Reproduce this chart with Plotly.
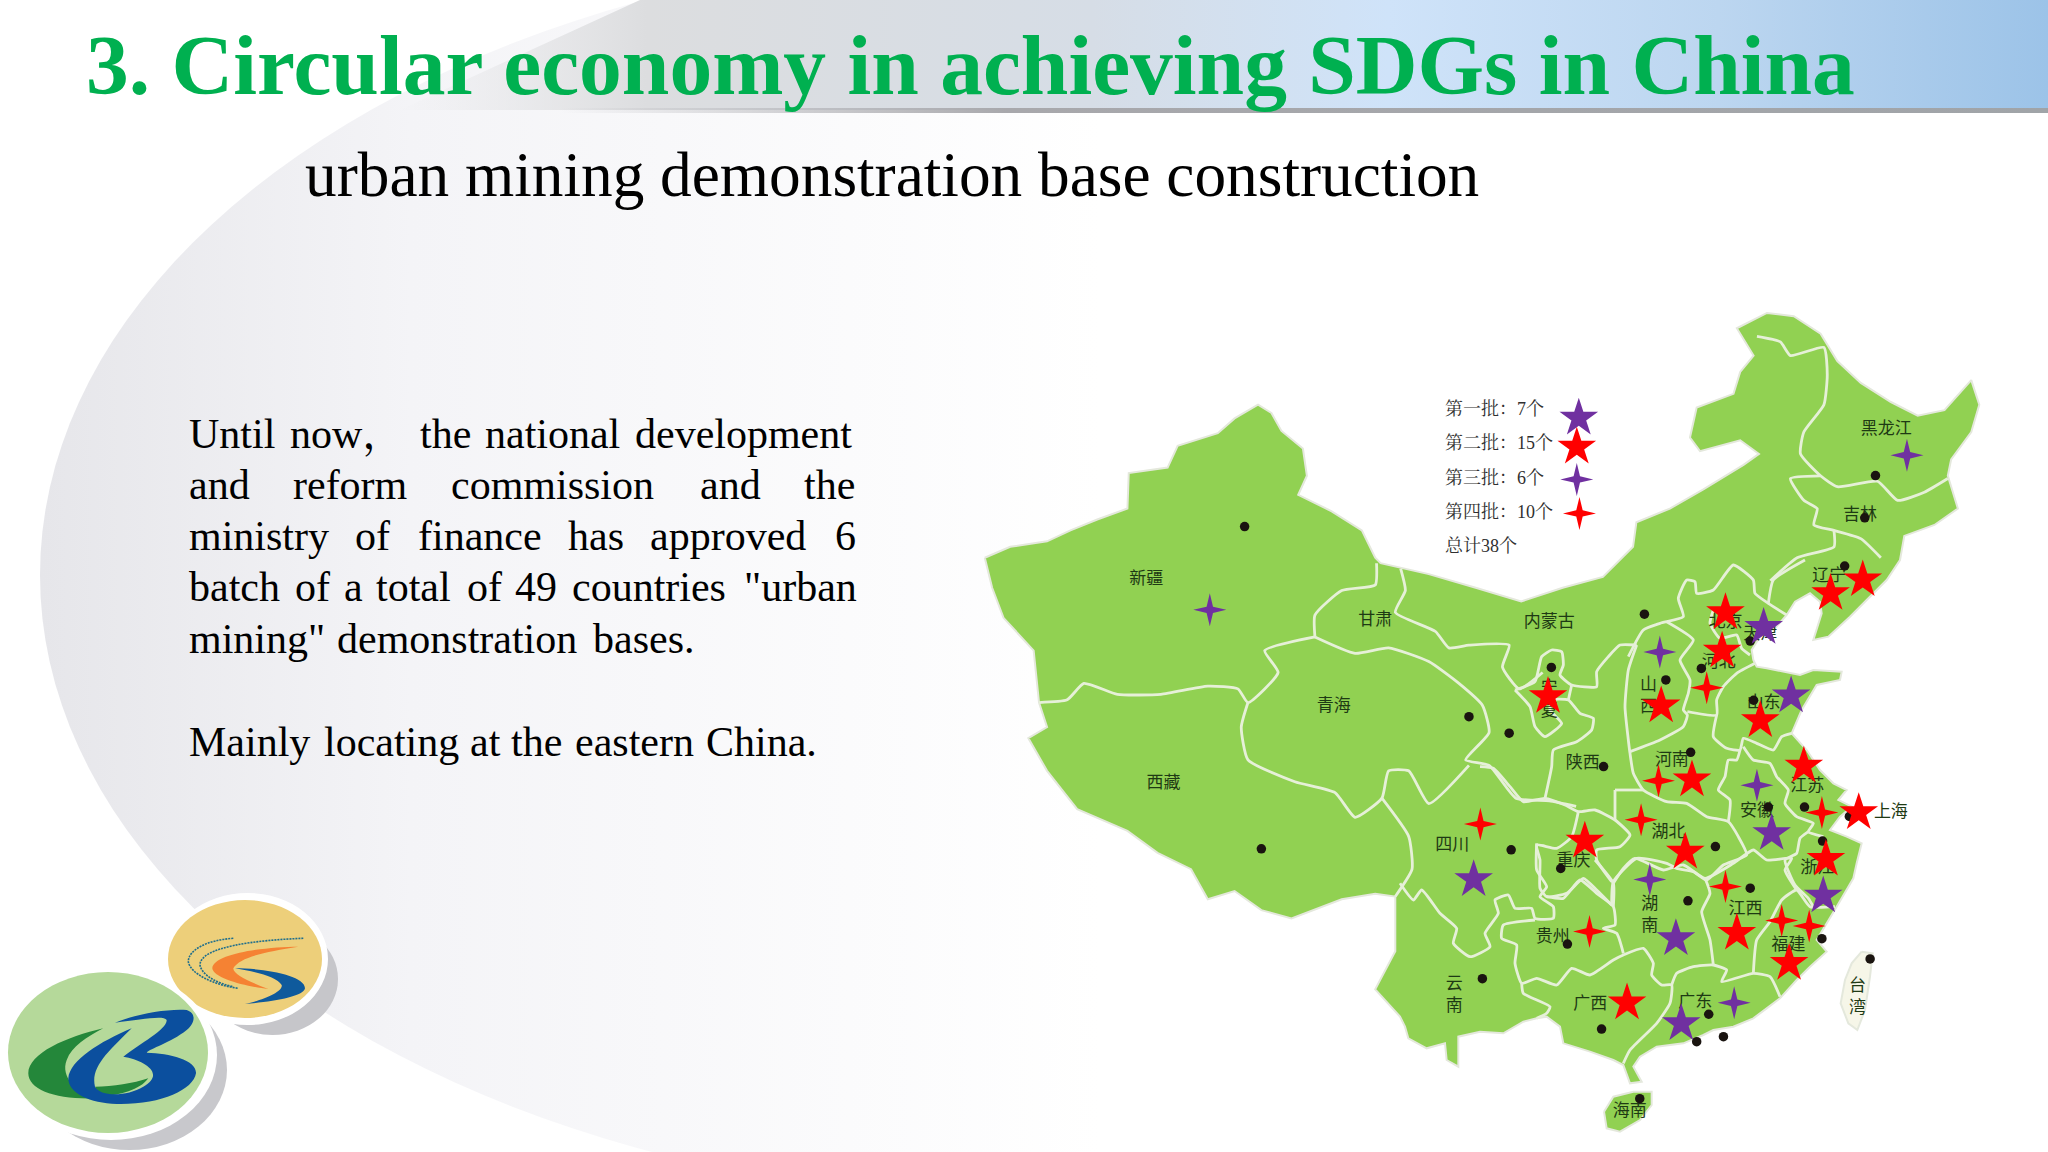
import numpy as np
import plotly.graph_objects as go

W, H = 2048, 1152
SERIF = "Liberation Serif, Noto Serif CJK SC, Noto Sans CJK SC"
CJK = "Noto Sans CJK SC"
GREEN, LINE = "#91D152", "#E6F0D8"

# ---- crop-to-page conversions for map coordinates
def a(pts): return [(960 + .6697 * x, 290 + .5464 * y) for x, y in pts]
def p(pts): return [(960 + .6697 * x, 292 + .548 * y) for x, y in pts]
def b(pts): return [(1480 + x / 3, 560 + y / 3) for x, y in pts]
def c(pts): return [(1400 + x / 3, 800 + y / 3) for x, y in pts]
def d(pts): return [(x / 3, 860 + y / 3) for x, y in pts]

# ---- map geometry
outline = (
    a([(37,490),(75,470),(130,460),(165,440),(205,420),(250,400),(252,335),(310,325),(325,285),(385,262),(410,235),
       (445,210),(465,225),(480,258),(512,290),(518,340),(505,375),(555,405),(600,440),(620,490),(628,500),(700,520),
       (770,545),(838,570),(900,545),(960,525),(1005,470),(1010,425),(1060,400),(1110,365),(1170,320),(1193,300),
       (1165,275),(1105,295),(1090,270),(1100,215),(1155,190),(1165,150),(1185,120),(1160,70),(1205,42),(1245,48),
       (1285,80),(1310,130),(1345,170),(1390,205),(1430,230),(1470,220),(1510,165),(1522,210),(1510,260),(1480,310),
       (1475,340),(1490,400),(1455,430),(1410,450)])
    + b([(1260,0),(1220,60),(1160,120),(1110,170),(1045,230),(1000,240),(1025,160),(1020,125),(990,100),(945,125),
         (920,165),(885,205),(840,230),(815,270),(820,300),(830,320),(860,325),(905,335),(960,345),(1000,330),(1085,335),
         (1080,360),(1010,375),(965,450),(935,520),(980,570),(1020,630),(1060,670),(1100,690),(1075,720),(1115,740)])
    + c([(1320,50),(1290,90),(1340,110),(1385,130),(1370,190),(1360,235),(1310,320),(1280,370),(1250,420),(1280,455),
         (1230,500),(1190,540),(1140,595),(1100,625),(1060,655),(1000,680),(940,690),(910,705),(850,730),(770,740),
         (720,770),(700,800),(725,845),(690,850),(670,795),(640,780),(570,755),(490,730),(480,680),(440,650),(410,655),
         (370,665),(310,700),(240,695),(175,710),(175,800),(140,780),(135,730),(80,745),(25,715),(15,680),(0,650)])
    + a([(620,1280),(650,1210),(650,1110),(620,1105),(570,1115),(495,1150),(450,1135),(410,1100),(370,1115),(345,1060),(295,1030),
         (250,990),(175,950),(130,880),(102,820),(130,800),(118,755),(110,660),(65,600),(48,545),(37,490)])
)
hainan = c([(612,935),(640,890),(700,875),(755,875),(755,915),(720,960),(660,995),(620,985)])
taiwan = c([(1385,455),(1418,460),(1410,530),(1395,630),(1372,690),(1345,670),(1322,610),(1335,540),(1355,490)])

borders = [
    a([(118,755),(160,750),(185,720),(235,740),(300,740),(370,725),(415,730),(430,755),(475,700),(455,660),(530,635)]),
    a([(530,635),(530,595),(570,550),(620,540),(622,500)]),
    a([(658,510),(665,550),(650,590),(710,625),(730,655),(760,650),(820,650),(810,690),(835,730),(870,700)]),
    a([(530,635),(590,665),(640,655),(700,680),(745,720),(780,760),(790,810),(755,860),(790,870),(830,930),(880,935),(920,945)]),
    a([(430,755),(420,800),(430,860),(500,900),(560,920),(590,965),(630,930),(640,880),(670,880),(700,940),(760,870)]),
    a([(630,930),(670,1000),(675,1060),(650,1110)]),
    b([(105,390),(165,365),(185,290),(215,270),(245,275),(250,315),(240,345),(275,375),(350,380),(350,335),(385,290),(420,255),(470,255)]),
    b([(105,390),(150,440),(165,500),(195,530),(245,490),(210,450),(215,420),(265,420),(300,460),(340,475),(335,510),(290,545),(220,570),(215,620),(195,715)]),
    b([(265,420),(275,375)]),
    b([(0,620),(40,625),(90,680),(130,725),(195,715),(255,735),(295,755),(345,750),(405,780),(450,825),(420,860),(350,870),(350,900),(395,965)]),
    b([(470,255),(445,330),(435,440),(445,540),(450,580),(460,640),(490,690),(560,725),(620,730),(680,770),(745,785),(775,830),(800,885),(730,915),(680,960),(640,935),(590,925),(560,910),(470,895),(400,965),(395,1035)]),
    b([(445,290),(490,210),(540,190),(610,170),(595,115),(620,60),(645,65),(650,100),(700,90),(760,15),(820,60),(825,100),(865,130),(920,165)]),
    b([(865,130),(880,60),(975,0)]),
    b([(560,185),(640,240),(600,300),(630,360),(625,400),(610,450),(622,465),(610,500),(540,540),(450,575)]),
    b([(622,455),(710,465),(710,420),(730,380),(770,340),(825,310)]),
    b([(710,465),(700,530),(740,565),(780,570),(790,535),(830,550),(880,570),(905,530),(935,520)]),
    b([(780,570),(770,600),(745,600),(735,650),(715,690),(750,720),(745,785)]),
    b([(790,560),(820,600),(870,610),(890,650),(925,690),(915,730),(950,770),(1000,790),(985,815),(1030,830)]),
    b([(985,815),(960,835),(950,880),(915,900),(945,975),(985,1015),(1000,1040)]),
    b([(700,150),(690,190),(720,235),(770,225),(785,265),(810,285)]),
    b([(405,690),(405,780)]),
    b([(405,690),(490,690)]),
    b([(295,755),(275,830),(230,865),(170,855),(180,900),(180,985),(200,1010),(260,1000),(310,955),(350,990),(395,1035)]),
    c([(410,130),(410,210),(440,260),(420,290),(460,320),(460,355),(405,355),(395,325),(345,325),(325,285),(285,300),(295,340),(255,400),(270,440),(210,470),(160,430),(170,385),(120,340),(65,270),(40,300),(0,250)]),
    c([(440,290),(490,295),(540,240),(590,280),(640,320),(645,375),(610,385),(650,400),(670,460)]),
    c([(585,180),(640,250),(640,320)]),
    c([(405,360),(310,375),(305,415),(350,435),(345,490),(365,550),(410,535),(470,555),(515,505),(570,525),(640,480),(670,465),(730,445),(760,490),(755,525),(785,555),(815,555),(810,610),(770,670),(690,750),(670,790)]),
    c([(365,550),(370,580),(450,620),(440,640),(410,655)]),
    c([(815,555),(830,520),(880,500),(940,495),(980,510),(965,545),(1060,520),(1110,530),(1140,590)]),
    c([(915,235),(930,280),(905,335),(930,420),(940,495)]),
    c([(1060,520),(1070,420),(1110,365),(1145,300),(1190,270),(1230,320),(1305,320)]),
    c([(1190,270),(1155,210),(1175,175),(1100,180),(1060,150),(1000,190),(915,235),(850,195),(790,210),(705,175),(670,205),(640,250)]),
    a([(1190,85),(1225,95),(1240,120),(1290,105),(1295,155),(1290,210),(1260,260),(1255,300),(1285,340),(1310,360),(1370,350),(1400,385),(1440,370),(1475,345)]),
    a([(1285,340),(1240,345),(1260,385),(1280,400),(1275,430),(1305,440),(1345,455),(1375,490)]),
    a([(1305,440),(1305,470),(1250,490),(1210,532)]),
]

# ---- demonstration bases (four batches) and city dots
batch1_pts = p([(924,230),(1200,612),(1241,737),(767,1072),(1212,988),(1289,1102),(1069,1180),(1077,1335)])
batch2_pts = p([(921,283),(1348,525),(1300,550),(1143,585),(1138,655),(878,738),(1047,755),(1195,782),(1260,865),(1093,890),
                (1342,950),(933,1002),(1083,1022),(1293,1035),(1160,1170),(1238,1225),(996,1297)])
batch3_pts = p([(921,342),(1414,298),(373,580),(1045,657),(1190,900),(1030,1072),(1156,1297)])
batch4_pts = p([(925,404),(1115,722),(1043,892),(1287,950),(777,971),(1017,963),(1143,1085),(1227,1147),(1268,1157),(940,1167)])
city_pts = p([(425,428),(450,1016),(760,775),(820,805),(883,685),(1022,588),(1054,708),(1107,687),(1180,637),(1185,745),
              (1091,840),(961,866),(1207,940),(1261,940),(1328,957),(1288,1002),(823,1018),(897,1052),(1128,1012),(1180,1088),
              (1087,1111),(907,1190),(1287,1180),(780,1253),(958,1345),(1118,1318),(1100,1368),(1140,1359),(1015,1472),
              (1359,1217),(1367,335),(1351,412),(1321,500)])

province_names = ["新疆","甘肃","内蒙古","青海","西藏","四川","云<br>南","广西","贵州","重庆","陕西","宁<br>夏","山<br>西","河南","湖北",
                  "湖<br>南","河北","北京","天津","山东","江苏","安徽","上海","浙江","江西","福建","广东","台<br>湾","海南","辽宁","吉林","黑龙江"]
province_pts = p([(278,525),(620,600),(880,603),(558,756),(304,898),(735,1010),(738,1285),(941,1300),(885,1178),(916,1040),
                  (930,860),(880,745),(1028,738),(1063,856),(1058,987),(1030,1138),(1133,677),(1143,603),(1195,625),(1200,752),
                  (1265,902),(1190,948),(1390,950),(1280,1053),(1173,1128),(1237,1193),(1098,1297),(1340,1288),(1000,1495),
                  (1298,520),(1344,408),(1383,252)])

legend_labels = ["第一批：7个","第二批：15个","第三批：6个","第四批：10个","总计38个"]
legend_y = [409, 443, 478, 512, 546]

title_text = "3. Circular economy in achieving SDGs in China"
subtitle_text = "urban mining demonstration base construction"
body_lines = [
    (434, [("Until",188),("now，",289),("the",419),("national",484),("development",634)]),
    (485, [("and",188),("reform",292),("commission",450),("and",699),("the",803)]),
    (536, [("ministry",188),("of",354),("finance",417),("has",567),("approved",649),("6",834)]),
    (587, [("batch",188),("of",294),("a",343),("total",375),("of",466),("49",514),("countries",571),('"urban',743)]),
    (639, [('mining"',188),("demonstration",336),("bases.",592)]),
    (742, [("Mainly",188),("locating",323),("at",469),("the",510),("eastern",574),("China.",705)]),
]

fig = go.Figure()

def xy(pts):
    return [q[0] for q in pts], [q[1] for q in pts]

def sparkle_path(pts, r=16.5, k=3.2):
    xs, ys = [], []
    for cx, cy in pts:
        xs += [cx, cx + k, cx + r, cx + k, cx, cx - k, cx - r, cx - k, cx, None]
        ys += [cy - r, cy - k, cy, cy + k, cy + r, cy + k, cy, cy - k, cy - r, None]
    return xs, ys

# ---- slide backdrop
t = np.linspace(0, 2 * np.pi, 181)
fig.add_trace(go.Scatter(x=1045 + 1005 * np.cos(t), y=575 + 627 * np.sin(t), mode="lines", line=dict(width=0), fill="toself",
                         fillgradient=dict(type="horizontal", start=40, stop=1100,
                                           colorscale=[[0, "#E6E6EA"], [.35, "#F4F4F7"], [1, "#FFFFFF"]]),
                         hoverinfo="skip"))
fig.add_trace(go.Scatter(x=[640, 2048, 2048, 470, 400, 640], y=[0, 0, 110, 110, 110, 0], mode="lines", line=dict(width=0), fill="toself",
                         fillgradient=dict(type="horizontal", start=400, stop=2048,
                                           colorscale=[[0, "rgba(222,222,224,0)"], [.15, "#DCDDDF"], [.42, "#D6DDE6"],
                                                       [.6, "#CFE3F9"], [.8, "#BCD6F0"], [1, "#9CC3E8"]]),
                         hoverinfo="skip"))
fig.add_trace(go.Scatter(x=[560, 2048, 2048, 560, 560], y=[108, 108, 113, 113, 108], mode="lines", line=dict(width=0), fill="toself",
                         fillgradient=dict(type="horizontal", start=560, stop=2048,
                                           colorscale=[[0, "rgba(170,170,175,0)"], [.3, "#A8A8AC"], [1, "#A0A4A8"]]),
                         hoverinfo="skip"))

# ---- map
for poly, fc in ((outline, GREEN), (hainan, GREEN), (taiwan, "#F6F6E8")):
    x, y = xy(poly + poly[:1])
    fig.add_trace(go.Scatter(x=x, y=y, mode="lines", fill="toself", fillcolor=fc,
                             line=dict(color="#E4E8DC", width=2), hoverinfo="skip"))
for br in borders:
    x, y = xy(br)
    fig.add_trace(go.Scatter(x=x, y=y, mode="lines", line=dict(color=LINE, width=2.8, shape="spline", smoothing=.5), hoverinfo="skip"))

x, y = xy(province_pts)
fig.add_trace(go.Scatter(x=x, y=y, mode="text", text=province_names, textposition="middle center",
                         textfont=dict(family=CJK, size=17, color="#1E3A14"), hoverinfo="skip"))
x, y = xy(city_pts)
fig.add_trace(go.Scatter(x=x, y=y, mode="markers", marker=dict(color="#1A1410", size=9.5), hoverinfo="skip"))
for pts, col in ((batch1_pts, "#7030A0"), (batch2_pts, "#FF0000")):
    x, y = xy(pts)
    fig.add_trace(go.Scatter(x=x, y=y, mode="markers", marker=dict(symbol="star", color=col, size=29, line=dict(width=0)), hoverinfo="skip"))
for pts, col in ((batch3_pts, "#7030A0"), (batch4_pts, "#FF0000")):
    x, y = sparkle_path(pts)
    fig.add_trace(go.Scatter(x=x, y=y, mode="lines", fill="toself", fillcolor=col, line=dict(width=0), hoverinfo="skip"))

# ---- text
ann = [dict(x=85, y=65, text="<b>" + title_text + "</b>", font=dict(family=SERIF, size=85.5, color="#00B050")),
       dict(x=304, y=175, text=subtitle_text, font=dict(family=SERIF, size=63.3, color="#000000"))]
for ly, words in body_lines:
    for w, wx in words:
        ann.append(dict(x=wx, y=ly, text=w, font=dict(family=SERIF, size=42, color="#000000")))
for s, ly in zip(legend_labels, legend_y):
    ann.append(dict(x=1444, y=ly, text=s, font=dict(family=SERIF, size=18, color="#303030")))
for n in ann:
    n.update(xref="x", yref="y", xanchor="left", yanchor="middle", showarrow=False, borderpad=0)

# ---- logos
def curve(pts, close=True):
    q = d(pts)
    s = f"M{q[0][0]:.1f},{q[0][1]:.1f} "
    for i in range(1, len(q), 3):
        s += "C" + " ".join(f"{r[0]:.1f},{r[1]:.1f}" for r in q[i:i + 3]) + " "
    return s + ("Z" if close else "")

shapes = []
def ell(x0, y0, x1, y1, col):
    shapes.append(dict(type="circle", xref="x", yref="y", x0=x0, y0=y0, x1=x1, y1=y1, fillcolor=col, line=dict(width=0), layer="above"))
def sw(pts, col):
    shapes.append(dict(type="path", xref="x", yref="y", path=curve(pts), fillcolor=col, line=dict(width=0), layer="above"))
def stroke(pts, col):
    shapes.append(dict(type="path", xref="x", yref="y", path=curve(pts, False), line=dict(color=col, width=1.6, dash="2px,1px"), layer="above"))

ell(207, 923, 338, 1035, "#C6C6CA")
ell(167, 893, 328, 1025, "#FFFFFF")
ell(168, 900, 322, 1018, "#EDCF7A")
sw([(895,260),(800,260),(640,280),(637,325),(640,355),(740,380),(805,387),(750,365),(700,345),(700,325),(720,290),(800,275),(895,260)], "#F58233")
sw([(705,325),(790,325),(915,345),(915,385),(910,410),(820,425),(735,432),(790,420),(850,395),(845,375),(830,350),(770,335),(705,325)], "#0F5A9C")
stroke([(700,235),(620,240),(565,270),(565,305),(570,340),(640,375),(715,385)], "#1F6E8C")
stroke([(910,235),(770,240),(600,260),(600,315),(605,345),(650,370),(700,380)], "#1F6E8C")
ell(32, 990, 227, 1150, "#C8C8CC")
ell(5, 970, 217, 1140, "#FFFFFF")
ell(8, 972, 208, 1133, "#B5D99A")
sw([(310,505),(200,530),(85,580),(85,640),(85,690),(170,720),(290,715),(230,700),(180,650),(200,600),(215,560),(260,530),(310,505)], "#24873A")
sw([(285,680),(340,680),(400,670),(445,655),(420,690),(360,705),(300,710),(295,700),(290,690),(285,680)], "#24873A")
sw([(345,488),(400,465),(500,445),(560,450),(590,460),(585,490),(560,510),(510,550),(450,565),(440,578),(510,580),(590,600),(588,640),
    (580,690),(480,735),(350,732),(270,730),(205,700),(205,655),(210,600),(300,545),(395,505),(330,570),(270,620),(285,680),(300,710),(380,710),
    (430,680),(500,640),(430,600),(370,590),(420,550),(500,510),(500,480),(490,465),(420,480),(345,488)], "#0B4F9E")

fig.update_layout(width=W, height=H, margin=dict(l=0, r=0, t=0, b=0), paper_bgcolor="#FFFFFF", plot_bgcolor="#FFFFFF",
                  showlegend=False, annotations=ann, shapes=shapes, hovermode=False,
                  xaxis=dict(range=[0, W], visible=False, fixedrange=True),
                  yaxis=dict(range=[H, 0], visible=False, fixedrange=True))
fig.write_html("out.html", config={"displayModeBar": False},
               post_script="document.body.style.margin='0';document.documentElement.style.overflow='hidden';")
